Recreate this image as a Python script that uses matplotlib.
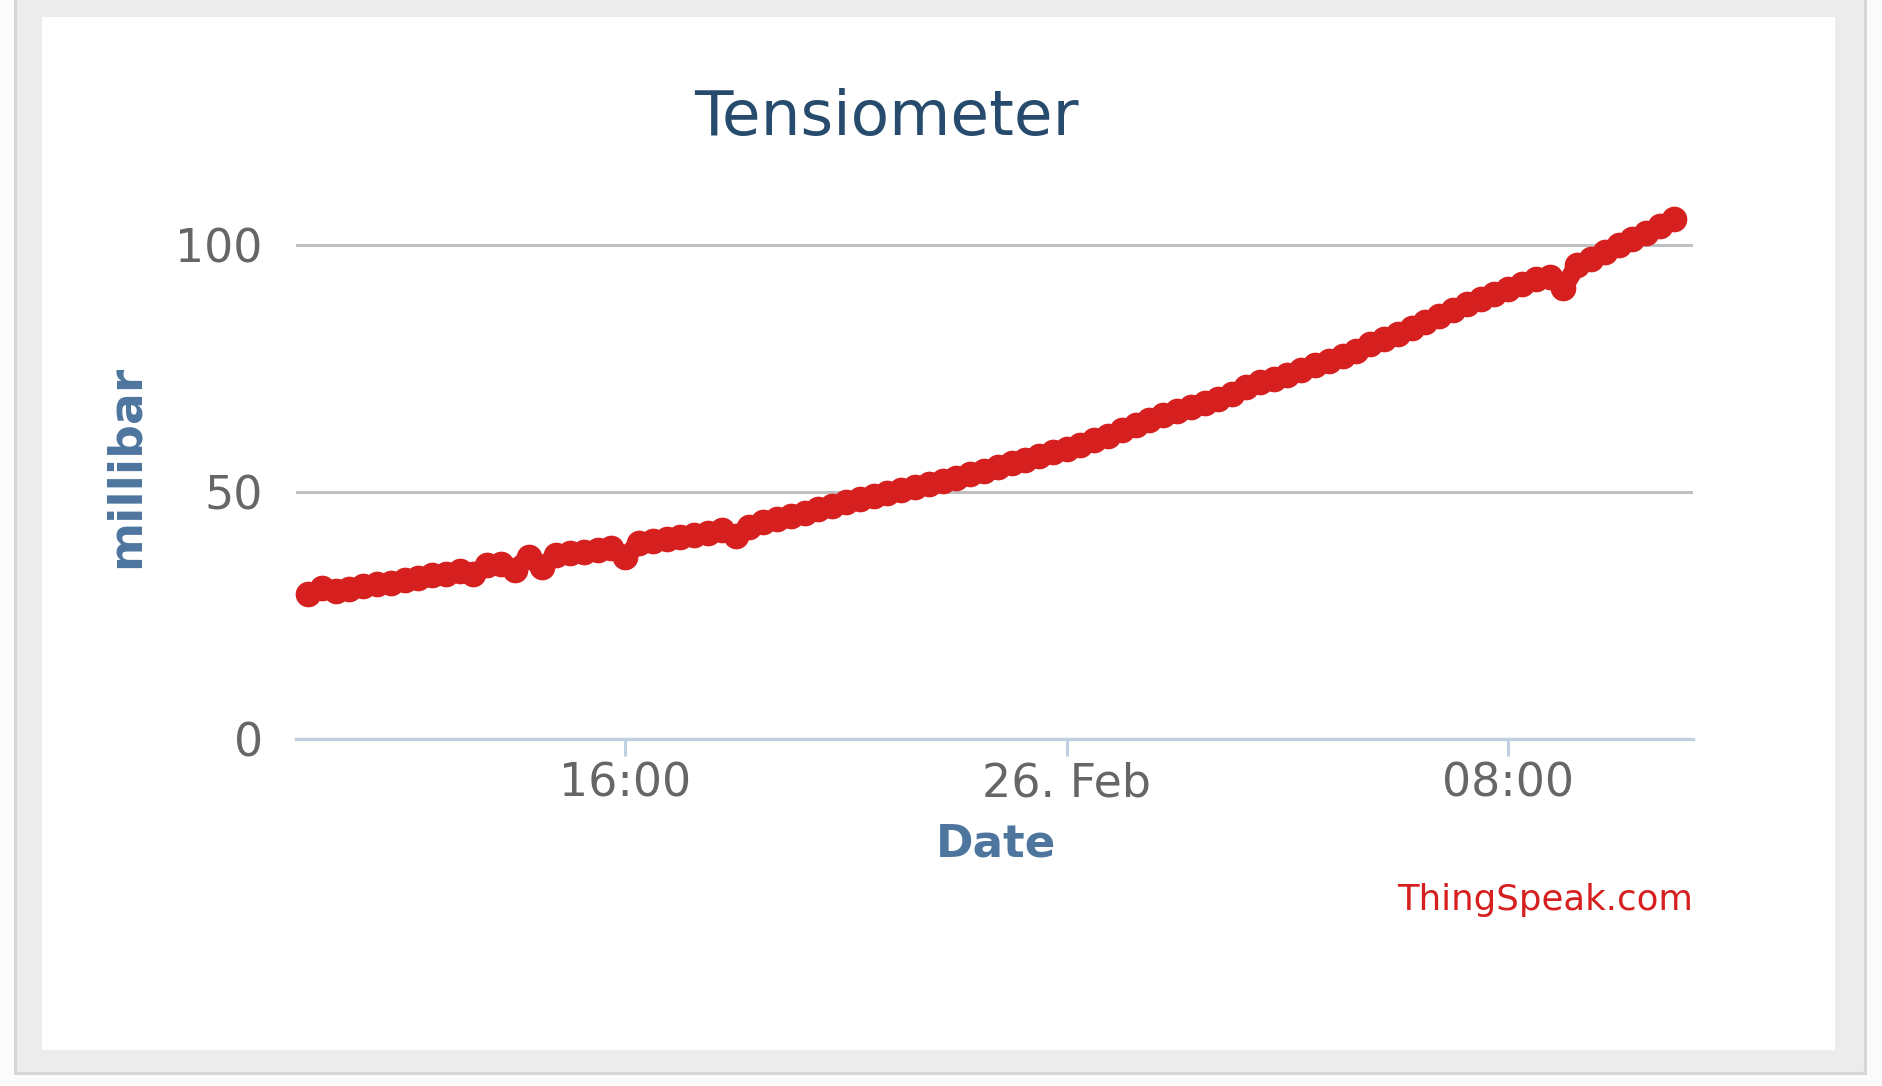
import matplotlib
matplotlib.use("Agg")
import matplotlib.pyplot as plt
from matplotlib.patches import Rectangle
import pandas as pd

# ---- data ----
start_time = "2017-02-25 10:15"
sample_step = "15min"
millibar = [
    29.3, 30.6, 30.0, 30.4, 30.9, 31.4, 31.6, 32.1, 32.6, 33.1,
    33.4, 34.1, 33.3, 35.2, 35.4, 34.3, 36.8, 34.8, 37.3, 37.6,
    37.9, 38.3, 38.7, 36.9, 39.6, 40.1, 40.4, 40.9, 41.3, 41.7,
    42.3, 41.0, 43.0, 43.9, 44.6, 45.2, 45.8, 46.5, 47.2, 47.9,
    48.5, 49.1, 49.8, 50.5, 51.1, 51.6, 52.2, 52.9, 53.6, 54.3,
    55.1, 55.8, 56.5, 57.3, 58.0, 58.7, 59.5, 60.5, 61.4, 62.5,
    63.5, 64.5, 65.5, 66.4, 67.3, 68.1, 68.9, 69.8, 71.3, 72.3,
    72.9, 73.6, 74.7, 75.8, 76.6, 77.5, 78.6, 79.9, 80.9, 82.0,
    83.2, 84.5, 85.7, 86.9, 88.0, 89.1, 90.0, 91.0, 92.1, 93.2,
    93.6, 91.3, 95.9, 97.1, 98.6, 100.0, 101.2, 102.4, 103.8, 105.3,
]
times = pd.date_range(start=start_time, periods=len(millibar), freq=sample_step)

x_range = ["2017-02-25 10:02", "2017-02-26 11:21"]
tick_times = ["2017-02-25 16:00", "2017-02-26 00:00", "2017-02-26 08:00"]
tick_labels = ["16:00", "26. Feb", "08:00"]
y_ticks = [0, 50, 100]

title_text = "Tensiometer"
y_title = "millibar"
x_title = "Date"
credit = "ThingSpeak.com"

# ---- figure ----
W, H = 1882, 1086
plt.rcParams["font.family"] = ["DejaVu Sans"]
fig = plt.figure(figsize=(W / 100, H / 100), dpi=100)
fig.patch.set_facecolor("#fbfbfb")


def frect(x0, y0, x1, y1, **kw):
    # pixel box (top-left origin) -> figure rectangle
    r = Rectangle((x0 / W, 1 - y1 / H), (x1 - x0) / W, (y1 - y0) / H,
                  transform=fig.transFigure, zorder=-10, **kw)
    fig.patches.append(r)


frect(15, -5, 1865, 1073, facecolor="#ececec", edgecolor="#d6d6d6", linewidth=2.2)
frect(42, 17, 1835, 1050, facecolor="white", edgecolor="none")

ax = fig.add_axes([296 / W, 347 / H, 1397 / W, 543.4 / H])
ax.set_facecolor("none")
ax.set_zorder(5)

color = "#d62020"
ax.plot(times, millibar, color=color, lw=13.5, solid_joinstyle="round",
        solid_capstyle="round", marker="o", markersize=18.5,
        markeredgewidth=0, clip_on=False, zorder=3)

ax.set_xlim(pd.Timestamp(x_range[0]), pd.Timestamp(x_range[1]))
ax.set_ylim(0, 110)

ax.set_xticks([pd.Timestamp(t) for t in tick_times])
ax.set_xticklabels(tick_labels)
ax.set_yticks(y_ticks)
ax.set_yticklabels([str(v) for v in y_ticks])

for sp in ["top", "right", "left"]:
    ax.spines[sp].set_visible(False)
ax.spines["bottom"].set_color("#c0d0e0")
ax.spines["bottom"].set_linewidth(2.4)
ax.spines["bottom"].set_zorder(2)

ax.yaxis.grid(True, color="#c0c0c0", linewidth=2.2)
ax.set_axisbelow(True)

ax.tick_params(axis="y", length=0, pad=24, labelsize=33, labelcolor="#666666")
ax.tick_params(axis="x", direction="out", length=12, width=2.2, color="#c0d0e0",
               pad=4, labelsize=33, labelcolor="#666666")

fig.text(886 / W, 1 - 135 / H, title_text, ha="center", va="baseline",
         fontsize=45.3, color="#274b6d")
fig.text(126 / W, 1 - 466 / H, y_title, ha="center", va="center", rotation=90,
         fontsize=34, fontweight="bold", color="#4d759e")
fig.text(996 / W, 1 - 844 / H, x_title, ha="center", va="center",
         fontsize=32.5, fontweight="bold", color="#4d759e")
fig.text(1693 / W, 1 - 900 / H, credit, ha="right", va="center",
         fontsize=25.6, color="#d62020")

fig.savefig("out.png", dpi=100, facecolor=fig.get_facecolor())
